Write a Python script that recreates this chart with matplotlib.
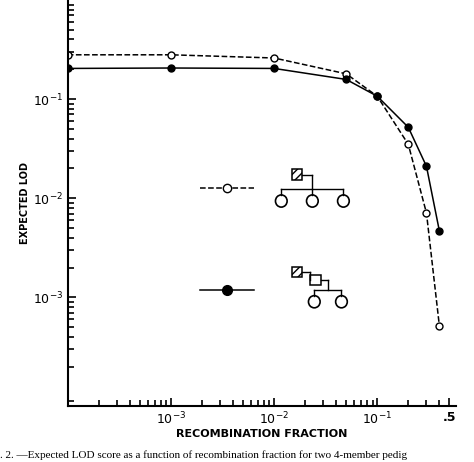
import matplotlib.pyplot as plt
from matplotlib.patches import Rectangle, Circle

# recombination fraction values and expected LOD for the two pedigrees
theta = [1e-4, 1e-3, 1e-2, 0.05, 0.1, 0.2, 0.3, 0.4]
lod_open = [0.28, 0.28, 0.26, 0.18, 0.107, 0.035, 0.0071, 0.00052]
lod_filled = [0.204, 0.206, 0.204, 0.158, 0.107, 0.052, 0.021, 0.0047]

fig = plt.figure(figsize=(4.74, 4.62), dpi=100)
ax = fig.add_axes([0.143, 0.121, 0.819, 0.879])

ax.plot(theta, lod_open, 'k--', lw=1.1, marker='o', mfc='white', mec='black', ms=5)
ax.plot(theta, lod_filled, 'k-', lw=1.1, marker='o', mfc='black', mec='black', ms=5)

ax.set_xscale('log')
ax.set_yscale('log')
ax.set_xlim(1e-4, 0.58)
ax.set_ylim(8e-5, 1.0)
ax.spines['top'].set_visible(False)
ax.spines['right'].set_visible(False)
ax.spines['left'].set_linewidth(1.5)
ax.spines['bottom'].set_linewidth(1.5)
ax.tick_params(which='both', direction='in', width=1.2)
ax.tick_params(which='major', length=6)
ax.tick_params(which='minor', length=4)
ax.set_xticks([1e-3, 1e-2, 1e-1, 0.5])
ax.set_xticklabels(['$10^{-3}$', '$10^{-2}$', '$10^{-1}$', '.5'], fontsize=9, fontweight='bold')
ax.set_yticks([1e-3, 1e-2, 1e-1])
ax.set_yticklabels(['$10^{-3}$', '$10^{-2}$', '$10^{-1}$'], fontsize=9)
ax.set_xlabel('RECOMBINATION FRACTION', fontsize=8, fontweight='bold', labelpad=1)
ax.set_ylabel('EXPECTED LOD', fontsize=7, fontweight='bold', labelpad=2)

# legend keys drawn inside the plot
ax.plot([0.34, 0.48], [0.538, 0.538], 'k--', lw=1.1, transform=ax.transAxes)
ax.plot([0.41], [0.538], 'o', mfc='white', mec='black', ms=6, transform=ax.transAxes)
ax.plot([0.34, 0.48], [0.285, 0.285], 'k-', lw=1.1, transform=ax.transAxes)
ax.plot([0.41], [0.285], 'o', mfc='black', mec='black', ms=7, transform=ax.transAxes)

# pedigree sketches
t = ax.transAxes
def sq(x, y, hatch=None):
    ax.add_patch(Rectangle((x - 0.013, y - 0.013), 0.026, 0.026, fill=False, ec='black',
                           lw=1.1, hatch=hatch, transform=t))
def circ(x, y):
    ax.add_patch(Circle((x, y), 0.015, fill=False, ec='black', lw=1.2, transform=t))
def line(xs, ys):
    ax.plot(xs, ys, 'k-', lw=1.0, transform=t)

sq(0.59, 0.57, '////')
line([0.603, 0.63], [0.57, 0.57]); line([0.63, 0.63], [0.57, 0.535])
line([0.55, 0.71], [0.535, 0.535])
for xc in [0.55, 0.63, 0.71]:
    line([xc, xc], [0.535, 0.52]); circ(xc, 0.505)

sq(0.59, 0.33, '////')
line([0.603, 0.625], [0.33, 0.33]); line([0.625, 0.625], [0.33, 0.31])
sq(0.638, 0.31)
line([0.651, 0.67], [0.31, 0.31]); line([0.67, 0.67], [0.31, 0.287])
line([0.635, 0.705], [0.287, 0.287])
for xc in [0.635, 0.705]:
    line([xc, xc], [0.287, 0.272]); circ(xc, 0.257)

fig.text(0.0, 0.005, '. 2. \u2014Expected LOD score as a function of recombination fraction for two 4-member pedig',
         fontsize=8, family='Liberation Serif', ha='left', va='bottom')

fig.savefig('out.png', dpi=100)
